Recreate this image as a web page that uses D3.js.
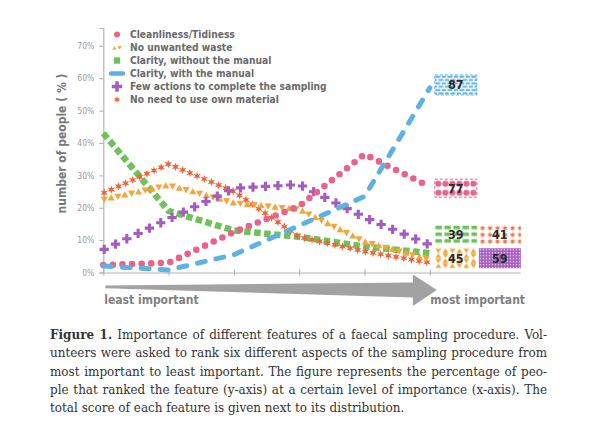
<!DOCTYPE html>
<html><head><meta charset="utf-8">
<script src="https://cdn.jsdelivr.net/npm/d3@7"></script>
<style>
html,body{margin:0;padding:0;background:#fff;}
svg{display:block;}
.sans{font-family:"DejaVu Sans Condensed","DejaVu Sans",sans-serif;font-stretch:condensed;}
.serif{font-family:"DejaVu Serif Condensed","DejaVu Serif",serif;font-stretch:condensed;}
</style>
</head><body>
<svg id="c" width="593" height="431"></svg>
<script>
// ---- data ----
const ranks = [1, 2, 3, 4, 5, 6];              // least important -> most important
const seriesNames = ["Cleanliness/Tidiness", "No unwanted waste", "Clarity, without the manual",
  "Clarity, with the manual", "Few actions to complete the sampling", "No need to use own material"];
const cleanliness = [2.3, 3, 12.5, 20.5, 36.5, 26.5];
const noWaste     = [22.5, 27, 21.5, 19.5, 9.5, 4];
const noManual    = [43, 19, 13, 11, 8, 6];
const withManual  = [2, 0.8, 5.5, 14.5, 23.5, 57];
const fewActions  = [7, 16.5, 26, 27.2, 17, 8.5];
const ownMaterial = [24.5, 33.5, 25, 11, 6.5, 3];
const totals = [77, 45, 39, 87, 59, 41];
const yTicks = [0, 10, 20, 30, 40, 50, 60, 70];
const captionLines = [
  "Importance of different features of a faecal sampling procedure. Vol-",
  "unteers were asked to rank six different aspects of the sampling procedure from",
  "most important to least important. The figure represents the percentage of peo-",
  "ple that ranked the feature (y-axis) at a certain level of importance (x-axis). The",
  "total score of each feature is given next to its distribution."
];

const seriesValues = [cleanliness, noWaste, noManual, withManual, fewActions, ownMaterial];
const colors = ["#E8638A", "#F5A53C", "#6FC25A", "#5DB2E3", "#A45DBE", "#EE6638"];
const kinds = ["circle", "tri", "square", "dash", "cross", "star"];

const svg = d3.select("#c");
const x = d3.scaleLinear().domain([1, 7.38]).range([103.3, 520]);
const y = d3.scaleLinear().domain([0, 75.5]).range([272.5, 28]);

// axes
const axisCol = "#b4b4b4";
const yAxis = svg.append("g").attr("transform", `translate(${x(1)},0)`)
  .call(d3.axisLeft(y).tickValues(yTicks).tickSize(4).tickPadding(5).tickFormat(d => d + "%"));
yAxis.select(".domain").attr("stroke", axisCol).attr("stroke-width", 1.2);
yAxis.selectAll(".tick line").attr("stroke", axisCol).attr("stroke-width", 1.2);
yAxis.selectAll(".tick text").attr("class", "sans").attr("fill", "#9a9a9a").attr("font-size", 8.5);

const xAxis = svg.append("g").attr("transform", `translate(0,${y(0)})`)
  .call(d3.axisBottom(x).tickValues(ranks).tickSize(3).tickSizeOuter(0).tickFormat(""));
xAxis.select(".domain").attr("stroke", axisCol).attr("stroke-width", 1.2);
xAxis.selectAll(".tick line").attr("stroke", axisCol).attr("stroke-width", 1.2).attr("y1", -3);

svg.append("text").attr("class", "sans")
  .attr("transform", `translate(66,143.5) rotate(-90)`)
  .attr("text-anchor", "middle").attr("font-size", 12).attr("font-weight", "bold").attr("fill", "#777")
  .text("number of people ( % )");

// shapes
const triUp = "M0,-3.6L3.6,2.7L-3.6,2.7Z", triDown = "M0,3.6L3.6,-2.7L-3.6,-2.7Z";
function starPath(ro, ri) {
  let p = [];
  for (let i = 0; i < 12; i++) {
    const a = Math.PI / 6 * i - Math.PI / 2, r = i % 2 ? ri : ro;
    p.push([r * Math.cos(a), r * Math.sin(a)]);
  }
  return "M" + p.map(q => q.join(",")).join("L") + "Z";
}
const star = starPath(4.3, 1.8);
const cross = d3.symbol(d3.symbolCross, 48)();

const line = d3.line().x((d, i) => x(ranks[i])).y(d => y(d));
const plot = svg.append("g");

function sampleAlong(d, step, offset) {
  const p = plot.append("path").attr("d", d).attr("fill", "none").attr("stroke", "none");
  const L = p.node().getTotalLength(), pts = [];
  for (let s = offset; s <= L + 0.1; s += step) { const q = p.node().getPointAtLength(Math.min(s, L)); pts.push([q.x, q.y]); }
  p.remove();
  return pts;
}

const order = [2, 5, 1, 4, 0, 3];
order.forEach(k => {
  const d = line(seriesValues[k]), c = colors[k], kind = kinds[k];
  if (kind === "circle") {
    plot.append("path").attr("d", d).attr("fill", "none").attr("stroke", c)
      .attr("stroke-width", 6.6).attr("stroke-linecap", "round").attr("stroke-dasharray", "0 9.6");
  } else if (kind === "square") {
    plot.append("path").attr("d", d).attr("fill", "none").attr("stroke", c)
      .attr("stroke-width", 6.5).attr("stroke-dasharray", "6.5 3.5");
  } else if (kind === "dash") {
    plot.append("path").attr("d", d).attr("fill", "none").attr("stroke", c)
      .attr("stroke-width", 5).attr("stroke-linecap", "round").attr("stroke-dasharray", "8 11");
  } else if (kind === "tri") {
    sampleAlong(d, 7, 1).forEach((p, i) => plot.append("path").attr("d", i % 2 ? triUp : triDown)
      .attr("transform", `translate(${p[0]},${p[1]})`).attr("fill", c));
  } else if (kind === "star") {
    sampleAlong(d, 7.8, 1).forEach(p => plot.append("path").attr("d", star)
      .attr("transform", `translate(${p[0]},${p[1]})`).attr("fill", c));
  } else if (kind === "cross") {
    sampleAlong(d, 12.5, 1).forEach(p => plot.append("path").attr("d", cross)
      .attr("transform", `translate(${p[0]},${p[1]})`).attr("fill", c));
  }
});

// legend
const lg = svg.append("g").attr("transform", "translate(117,34.5)");
seriesNames.forEach((n, i) => {
  const g = lg.append("g").attr("transform", `translate(0,${i * 13})`);
  const c = colors[i];
  if (kinds[i] === "circle") g.append("circle").attr("r", 3).attr("fill", c);
  if (kinds[i] === "tri") {
    g.append("path").attr("d", "M-4.5,2.2L-2.6,-1.6L-0.7,2.2Z").attr("fill", c);
    g.append("path").attr("d", "M0.7,-1.6L4.5,-1.6L2.6,2.2Z").attr("fill", c);
  }
  if (kinds[i] === "square") g.append("rect").attr("x", -3.2).attr("y", -3.2).attr("width", 6.4).attr("height", 6.4).attr("fill", c);
  if (kinds[i] === "dash") g.append("line").attr("x1", -6).attr("x2", 6).attr("stroke", c).attr("stroke-width", 4.5).attr("stroke-linecap", "round");
  if (kinds[i] === "cross") g.append("path").attr("d", d3.symbol(d3.symbolCross, 60)()).attr("fill", c);
  if (kinds[i] === "star") g.append("path").attr("d", starPath(3.6, 1.5)).attr("fill", c);
  g.append("text").attr("class", "sans").attr("x", 13).attr("dy", "0.36em")
    .attr("font-size", 10.2).attr("font-weight", "bold").attr("fill", "#6a6a6a").text(n);
});

// box layout: blue & pink at their last value, others stacked bottom-right
const bw = 42, x0 = x(6) + 5;
const boxes = [
  { i: 3, x: x0, cy: y(withManual[5]) - 3, h: 20 },
  { i: 0, x: x0, cy: y(cleanliness[5]) + 1.5, h: 18 },
  { i: 2, x: x0, cy: y(11.6), h: 20 },
  { i: 5, x: x0 + bw + 2, cy: y(11.6), h: 20 },
  { i: 1, x: x0, cy: y(4.4), h: 20 },
  { i: 4, x: x0 + bw + 2, cy: y(4.4), h: 20 }
];

// patterns for total-score boxes (anchored to each box)
const defs = svg.append("defs");
function pat(id, bx, by, w, h, draw) {
  const p = defs.append("pattern").attr("id", id).attr("patternUnits", "userSpaceOnUse")
    .attr("x", bx).attr("y", by).attr("width", w).attr("height", h);
  p.append("rect").attr("width", w).attr("height", h).attr("fill", "#fff");
  draw(p);
}
const B = {}; boxes.forEach(b => B[b.i] = [b.x, b.cy - b.h / 2]);
pat("p0", B[0][0], B[0][1], 7, 9, p => { p.append("circle").attr("cx", 3.5).attr("cy", 4.5).attr("r", 3.1).attr("fill", colors[0]); });
pat("p1", B[1][0], B[1][1], 14, 10, p => {
  p.append("path").attr("d", "M0.5,0.5L6.5,0.5L3.5,5Z").attr("fill", colors[1]);
  p.append("path").attr("d", "M7.5,4.8L10.5,0.3L13.5,4.8Z").attr("fill", colors[1]);
  p.append("path").attr("d", "M0.5,9.8L3.5,5.3L6.5,9.8Z").attr("fill", colors[1]);
  p.append("path").attr("d", "M7.5,5.3L13.5,5.3L10.5,9.8Z").attr("fill", colors[1]);
});
pat("p2", B[2][0], B[2][1], 9, 6.7, p => {
  p.append("rect").attr("x", 0.5).attr("y", 0.8).attr("width", 6.5).attr("height", 3.6).attr("fill", colors[2]);
});
pat("p3", B[3][0], B[3][1], 12, 6.7, p => {
  p.append("rect").attr("x", 0.5).attr("y", 0.8).attr("width", 5).attr("height", 2).attr("fill", colors[3]);
  p.append("rect").attr("x", 7).attr("y", 0.8).attr("width", 4).attr("height", 2).attr("fill", colors[3]);
  p.append("rect").attr("x", 3.5).attr("y", 4.1).attr("width", 5).attr("height", 2).attr("fill", colors[3]);
  p.append("rect").attr("x", 10).attr("y", 4.1).attr("width", 2).attr("height", 2).attr("fill", colors[3]);
  p.append("rect").attr("x", 0).attr("y", 4.1).attr("width", 2).attr("height", 2).attr("fill", colors[3]);
});
pat("p4", B[4][0], B[4][1], 3, 3, p => {
  p.select("rect").attr("fill", colors[4]);
  p.append("circle").attr("cx", 1.5).attr("cy", 1.5).attr("r", 0.75).attr("fill", "#f3e6f6");
});
pat("p5", B[5][0], B[5][1], 7.5, 6.7, p => {
  p.append("path").attr("d", starPath(3.2, 1.2)).attr("transform", "translate(3.7,3.3)").attr("fill", colors[5]);
});

const bg = svg.append("g");
boxes.forEach(b => {
  const r = bg.append("rect").attr("x", b.x).attr("y", b.cy - b.h / 2).attr("width", bw).attr("height", b.h)
    .attr("fill", `url(#p${b.i})`);
  if (b.i === 3 || b.i === 0) r.attr("stroke", colors[b.i]).attr("stroke-width", 1).attr("stroke-dasharray", "3 2");
  bg.append("text").attr("class", "sans").attr("x", b.x + bw / 2).attr("y", b.cy).attr("dy", "0.36em")
    .attr("text-anchor", "middle").attr("font-size", 12.5).attr("font-weight", "bold").attr("fill", "#2a2a2a")
    .text(totals[b.i]);
});

// importance arrow
const ax0 = x(1) + 2, axH = x(6) - 17, axT = x(6) + 7;
svg.append("path").attr("fill", "#a2a2a2")
  .attr("d", `M${ax0},285.6L${axH},282.5L${axH},274.5L${axT},290L${axH},306L${axH},297.5L${ax0},288.3Z`);
svg.append("text").attr("class", "sans").attr("x", x(1) + 1).attr("y", 303.5)
  .attr("font-size", 12).attr("font-weight", "bold").attr("fill", "#808080").text("least important");
svg.append("text").attr("class", "sans").attr("x", 525).attr("y", 303.5).attr("text-anchor", "end")
  .attr("font-size", 12).attr("font-weight", "bold").attr("fill", "#808080").text("most important");

// caption (justified)
const cap = svg.append("g");
const fullW = 497;
let fs = 12.6;
const texts = captionLines.map((t, i) => {
  const tx = cap.append("text").attr("class", "serif").attr("x", 50).attr("y", 339 + i * 18.35)
    .attr("font-size", fs).attr("fill", "#333");
  if (i === 0) { tx.append("tspan").attr("font-weight", "bold").text("Figure 1."); tx.append("tspan").text(" " + t); }
  else tx.text(t);
  return tx;
});
const maxW = d3.max(texts.slice(0, 4), t => t.node().getComputedTextLength());
fs = fs * (fullW - 6) / maxW;
texts.forEach((tx, i) => {
  tx.attr("font-size", fs);
  if (i < texts.length - 1) {
    const w = tx.node().getComputedTextLength();
    const full = (i === 0 ? "Figure 1. " : "") + captionLines[i];
    const spaces = (full.match(/ /g) || []).length;
    tx.attr("word-spacing", (fullW - w) / spaces);
  }
});
</script>
</body></html>
